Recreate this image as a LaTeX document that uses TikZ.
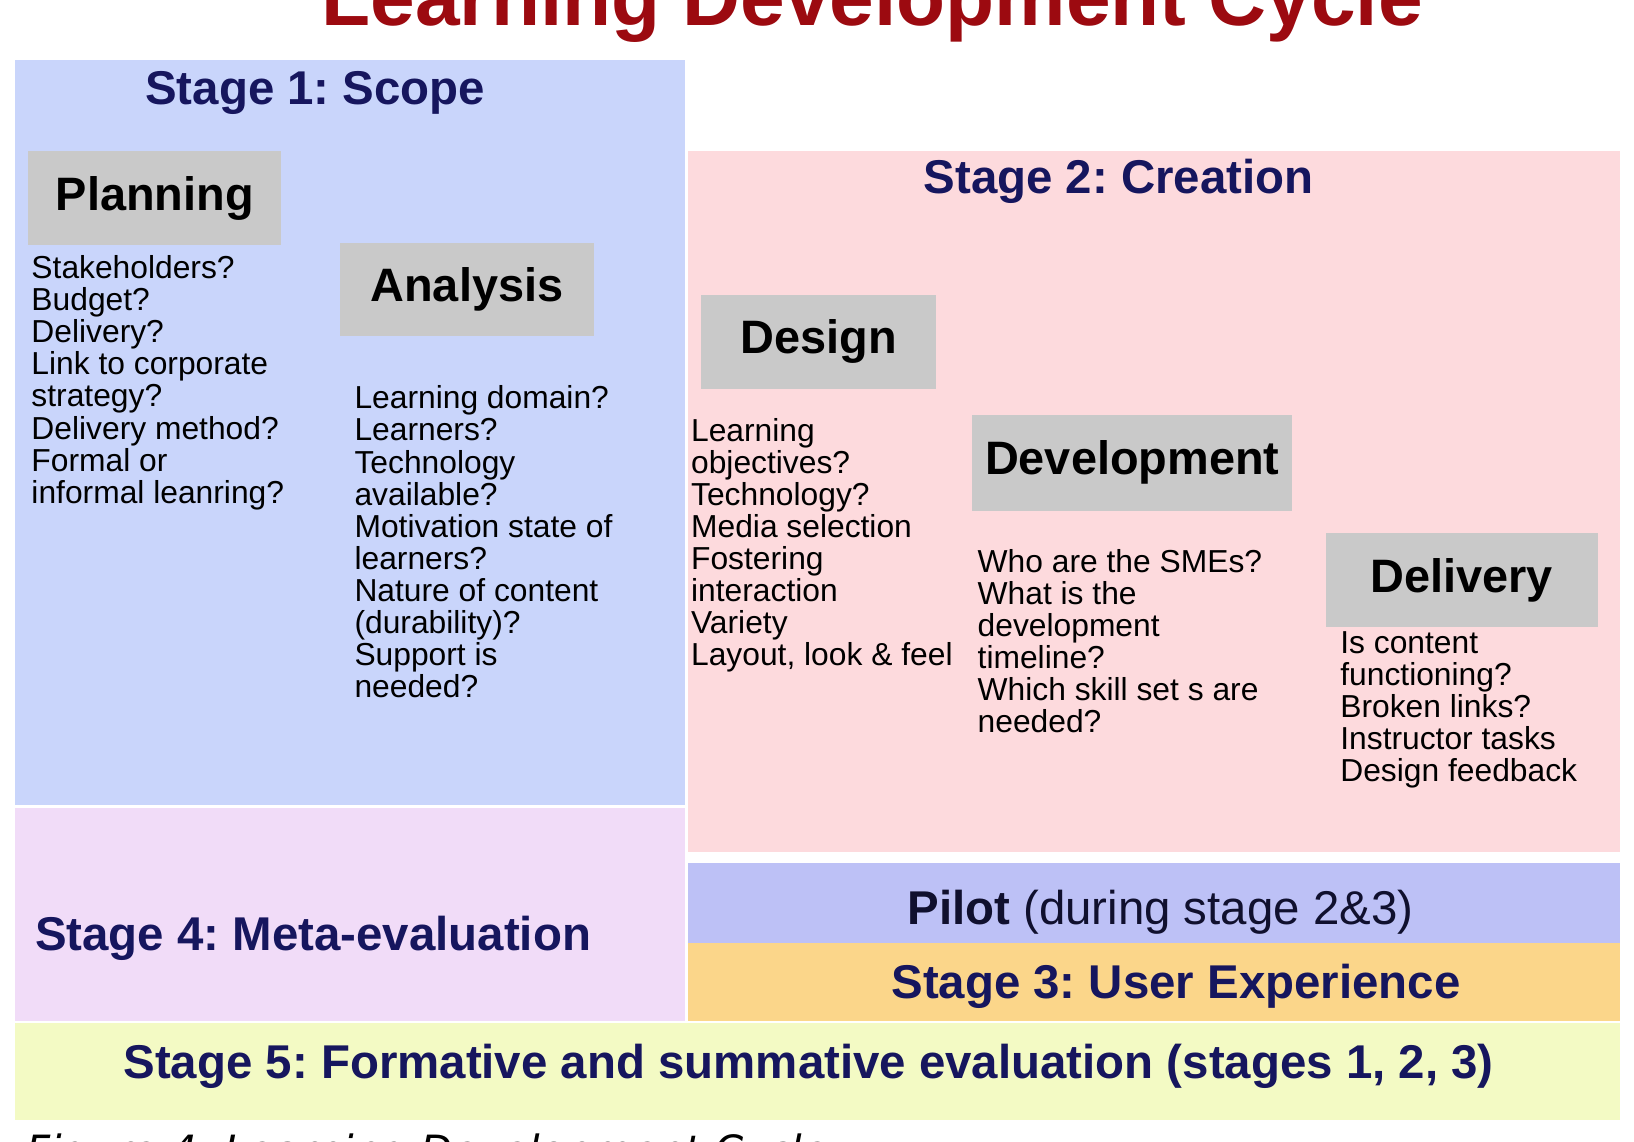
\documentclass[tikz,border=0pt]{standalone}
\usepackage{fontspec}
\setmainfont{Liberation Sans}
\newfontfamily\capfont{DejaVu Sans}
\frenchspacing
\definecolor{scopeblue}{HTML}{C9D5FB}
\definecolor{creapink}{HTML}{FDDADD}
\definecolor{metalilac}{HTML}{F1DCF8}
\definecolor{pilotblue}{HTML}{BDC1F6}
\definecolor{userorange}{HTML}{FBD68A}
\definecolor{formgreen}{HTML}{F3FAC4}
\definecolor{stagenavy}{HTML}{16165E}
\definecolor{pilotink}{HTML}{10102E}
\definecolor{titlered}{HTML}{9C0A10}
\definecolor{phasegray}{HTML}{C9C9C9}

\begin{document}
\begin{tikzpicture}[x=1pt,y=-1pt,
    stagehead/.style={anchor=base,inner sep=0,text=stagenavy,font=\fontsize{45.5}{50}\selectfont\bfseries},
    phasebox/.style={fill=phasegray,inner sep=0,font=\fontsize{45}{50}\selectfont\bfseries},
    qlist/.style={anchor=north west,inner sep=0,align=left,font=\fontsize{30.5}{30.8}\selectfont}]
    \def\rgt{1555}
    \clip (0,0) rectangle (1568,1095);
    \fill[white] (0,0) rectangle (1568,1095);

    % stage areas
    \fill[scopeblue] (14,58) rectangle (657,772);
    \fill[creapink] (660,145) rectangle (\rgt,818);
    \fill[metalilac] (14,775) rectangle (657,980);
    \fill[pilotblue] (660,828) rectangle (\rgt,905);
    \fill[userorange] (660,905) rectangle (\rgt,980);
    \fill[formgreen] (14,982) rectangle (\rgt,1075);

    \node (title) [anchor=base,inner sep=0,text=titlered,font=\fontsize{77}{80}\selectfont\bfseries] at (837,24) {Learning Development Cycle};

    \node (scope) [stagehead] at (302.5,100) {Stage 1: Scope};
    \node (creation) [stagehead] at (1073.5,186) {Stage 2: Creation};
    \node (meta) [stagehead] at (300.5,912) {Stage 4: Meta-evaluation};
    \node (pilot) [stagehead,text=pilotink,font=\fontsize{45.5}{50}\selectfont] at (1113.5,887) {\textbf{Pilot} (during stage 2\&3)};
    \node (userexp) [stagehead] at (1128.5,958) {Stage 3: User Experience};
    \node (formative) [stagehead] at (776,1035) {Stage 5: Formative and summative evaluation (stages 1, 2, 3)};

    % phases
    \node (plan) [phasebox,minimum width=243,minimum height=90] at (148.5,190) {Planning};
    \node (analysis) [phasebox,minimum width=244,minimum height=89] at (448,277.5) {Analysis};
    \node (design) [phasebox,minimum width=225,minimum height=90] at (785.5,328) {Design};
    \node (develop) [phasebox,minimum width=307,minimum height=92] at (1086.5,444) {Development};
    \node (deliver) [phasebox,minimum width=261,minimum height=91] at (1402.5,556.5) {Delivery};

    \node (planq) [qlist] at (30,245) {Stakeholders?\\Budget?\\Delivery?\\Link to corporate\\strategy?\\Delivery method?\\Formal or\\informal leanring?};
    \node (analysisq) [qlist] at (340,370) {Learning domain?\\Learners?\\Technology\\available?\\Motivation state of\\learners?\\Nature of content\\(durability)?\\Support is\\needed?};
    \node (designq) [qlist] at (663,401) {Learning\\objectives?\\Technology?\\Media selection\\Fostering\\interaction\\Variety\\Layout, look \& feel};
    \node (developq) [qlist] at (938,527) {Who are the SMEs?\\What is the\\development\\timeline?\\Which skill set s are\\needed?};
    \node (deliverq) [qlist] at (1286,606) {Is content\\functioning?\\Broken links?\\Instructor tasks\\Design feedback};

    \node (caption) [anchor=base west,inner sep=0,font=\capfont\itshape\fontsize{40}{44}\selectfont] at (25,1118) {Figure 4: Learning Development Cycle};
\end{tikzpicture}
\end{document}
